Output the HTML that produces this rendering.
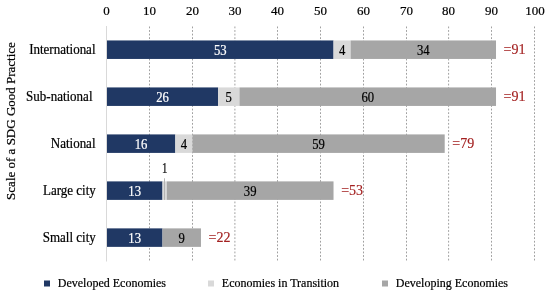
<!DOCTYPE html><html><head><meta charset="utf-8"><style>html,body{margin:0;padding:0;background:#fff;width:550px;height:294px;overflow:hidden}svg{display:block}text{font-family:"Liberation Serif","Times New Roman",serif}</style></head><body>
<svg width="550" height="294" viewBox="0 0 550 294">
<rect width="550" height="294" fill="#fff"/>
<line x1="149.5" y1="26.5" x2="149.5" y2="261.2" stroke="#a0a0a0" stroke-width="1" stroke-dasharray="1.8 1.772"/>
<line x1="192.5" y1="26.5" x2="192.5" y2="261.2" stroke="#a0a0a0" stroke-width="1" stroke-dasharray="1.8 1.772"/>
<line x1="234.9" y1="26.5" x2="234.9" y2="261.2" stroke="#a0a0a0" stroke-width="1" stroke-dasharray="1.8 1.772"/>
<line x1="277.5" y1="26.5" x2="277.5" y2="261.2" stroke="#a0a0a0" stroke-width="1" stroke-dasharray="1.8 1.772"/>
<line x1="320.5" y1="26.5" x2="320.5" y2="261.2" stroke="#a0a0a0" stroke-width="1" stroke-dasharray="1.8 1.772"/>
<line x1="363.5" y1="26.5" x2="363.5" y2="261.2" stroke="#a0a0a0" stroke-width="1" stroke-dasharray="1.8 1.772"/>
<line x1="406.5" y1="26.5" x2="406.5" y2="261.2" stroke="#a0a0a0" stroke-width="1" stroke-dasharray="1.8 1.772"/>
<line x1="448.6" y1="26.5" x2="448.6" y2="261.2" stroke="#a0a0a0" stroke-width="1" stroke-dasharray="1.8 1.772"/>
<line x1="491.5" y1="26.5" x2="491.5" y2="261.2" stroke="#a0a0a0" stroke-width="1" stroke-dasharray="1.8 1.772"/>
<line x1="534.5" y1="26.5" x2="534.5" y2="261.2" stroke="#a0a0a0" stroke-width="1" stroke-dasharray="1.8 1.772"/>
<text transform="translate(106.50,15.40) scale(1.0,1.03)" font-size="13" text-anchor="middle" fill="#000" stroke="#000" stroke-width="0.2">0</text>
<text transform="translate(149.50,15.40) scale(1.0,1.03)" font-size="13" text-anchor="middle" fill="#000" stroke="#000" stroke-width="0.2">10</text>
<text transform="translate(192.50,15.40) scale(1.0,1.03)" font-size="13" text-anchor="middle" fill="#000" stroke="#000" stroke-width="0.2">20</text>
<text transform="translate(234.90,15.40) scale(1.0,1.03)" font-size="13" text-anchor="middle" fill="#000" stroke="#000" stroke-width="0.2">30</text>
<text transform="translate(277.50,15.40) scale(1.0,1.03)" font-size="13" text-anchor="middle" fill="#000" stroke="#000" stroke-width="0.2">40</text>
<text transform="translate(320.50,15.40) scale(1.0,1.03)" font-size="13" text-anchor="middle" fill="#000" stroke="#000" stroke-width="0.2">50</text>
<text transform="translate(363.50,15.40) scale(1.0,1.03)" font-size="13" text-anchor="middle" fill="#000" stroke="#000" stroke-width="0.2">60</text>
<text transform="translate(406.50,15.40) scale(1.0,1.03)" font-size="13" text-anchor="middle" fill="#000" stroke="#000" stroke-width="0.2">70</text>
<text transform="translate(448.60,15.40) scale(1.0,1.03)" font-size="13" text-anchor="middle" fill="#000" stroke="#000" stroke-width="0.2">80</text>
<text transform="translate(491.50,15.40) scale(1.0,1.03)" font-size="13" text-anchor="middle" fill="#000" stroke="#000" stroke-width="0.2">90</text>
<text transform="translate(535.00,15.40) scale(1.0,1.03)" font-size="13" text-anchor="middle" fill="#000" stroke="#000" stroke-width="0.2">100</text>
<rect x="106.90" y="40.45" width="226.63" height="18.5" fill="#203864"/>
<rect x="333.53" y="40.45" width="17.10" height="18.5" fill="#d9d9d9"/>
<rect x="350.63" y="40.45" width="145.38" height="18.5" fill="#a6a6a6"/>
<text transform="translate(220.21,54.65) scale(0.94,1.03)" font-size="13.5" text-anchor="middle" fill="#fff" stroke="#fff" stroke-width="0.2">53</text>
<text transform="translate(342.08,54.65) scale(0.94,1.03)" font-size="13.5" text-anchor="middle" fill="#000" stroke="#000" stroke-width="0.2">4</text>
<text transform="translate(423.32,54.65) scale(0.94,1.03)" font-size="13.5" text-anchor="middle" fill="#000" stroke="#000" stroke-width="0.2">34</text>
<text transform="translate(503.62,54.25) scale(0.97,1.0)" font-size="14.5" text-anchor="start" fill="#a32020" stroke="#a32020" stroke-width="0.15"><tspan dy="-0.2">=</tspan><tspan dy="0.2">91</tspan></text>
<text transform="translate(95.50,54.05) scale(1.0,1.07)" font-size="13" text-anchor="end" fill="#000" stroke="#000" stroke-width="0.2">International</text>
<rect x="106.90" y="87.43" width="111.18" height="18.5" fill="#203864"/>
<rect x="218.08" y="87.43" width="21.38" height="18.5" fill="#d9d9d9"/>
<rect x="239.46" y="87.43" width="256.56" height="18.5" fill="#a6a6a6"/>
<text transform="translate(162.49,101.63) scale(0.94,1.03)" font-size="13.5" text-anchor="middle" fill="#fff" stroke="#fff" stroke-width="0.2">26</text>
<text transform="translate(228.77,101.63) scale(0.94,1.03)" font-size="13.5" text-anchor="middle" fill="#000" stroke="#000" stroke-width="0.2">5</text>
<text transform="translate(367.74,101.63) scale(0.94,1.03)" font-size="13.5" text-anchor="middle" fill="#000" stroke="#000" stroke-width="0.2">60</text>
<text transform="translate(503.62,101.23) scale(0.97,1.0)" font-size="14.5" text-anchor="start" fill="#a32020" stroke="#a32020" stroke-width="0.15"><tspan dy="-0.2">=</tspan><tspan dy="0.2">91</tspan></text>
<text transform="translate(92.50,101.03) scale(1.0,1.07)" font-size="13" text-anchor="end" fill="#000" stroke="#000" stroke-width="0.2">Sub-national</text>
<rect x="106.90" y="134.41" width="68.42" height="18.5" fill="#203864"/>
<rect x="175.32" y="134.41" width="17.10" height="18.5" fill="#d9d9d9"/>
<rect x="192.42" y="134.41" width="252.28" height="18.5" fill="#a6a6a6"/>
<text transform="translate(141.11,148.61) scale(0.94,1.03)" font-size="13.5" text-anchor="middle" fill="#fff" stroke="#fff" stroke-width="0.2">16</text>
<text transform="translate(183.87,148.61) scale(0.94,1.03)" font-size="13.5" text-anchor="middle" fill="#000" stroke="#000" stroke-width="0.2">4</text>
<text transform="translate(318.56,148.61) scale(0.94,1.03)" font-size="13.5" text-anchor="middle" fill="#000" stroke="#000" stroke-width="0.2">59</text>
<text transform="translate(452.30,148.21) scale(0.97,1.0)" font-size="14.5" text-anchor="start" fill="#a32020" stroke="#a32020" stroke-width="0.15"><tspan dy="-0.2">=</tspan><tspan dy="0.2">79</tspan></text>
<text transform="translate(95.50,148.01) scale(1.0,1.07)" font-size="13" text-anchor="end" fill="#000" stroke="#000" stroke-width="0.2">National</text>
<rect x="106.90" y="181.39" width="55.59" height="18.5" fill="#203864"/>
<rect x="162.49" y="181.39" width="4.28" height="18.5" fill="#d9d9d9"/>
<rect x="166.76" y="181.39" width="166.76" height="18.5" fill="#a6a6a6"/>
<text transform="translate(134.69,195.59) scale(0.94,1.03)" font-size="13.5" text-anchor="middle" fill="#fff" stroke="#fff" stroke-width="0.2">13</text>
<line x1="164.5" y1="178.29" x2="164.5" y2="199.89" stroke="#b4b4b4" stroke-width="1"/>
<text transform="translate(164.63,173.49) scale(0.8,1.03)" font-size="13.5" text-anchor="middle" fill="#000" stroke="#000" stroke-width="0.2">1</text>
<text transform="translate(250.15,195.59) scale(0.94,1.03)" font-size="13.5" text-anchor="middle" fill="#000" stroke="#000" stroke-width="0.2">39</text>
<text transform="translate(341.13,195.19) scale(0.97,1.0)" font-size="14.5" text-anchor="start" fill="#a32020" stroke="#a32020" stroke-width="0.15"><tspan dy="-0.2">=</tspan><tspan dy="0.2">53</tspan></text>
<text transform="translate(95.80,194.99) scale(1.0,1.07)" font-size="13" text-anchor="end" fill="#000" stroke="#000" stroke-width="0.2">Large city</text>
<rect x="106.90" y="228.37" width="55.59" height="18.5" fill="#203864"/>
<rect x="162.49" y="228.37" width="38.48" height="18.5" fill="#a6a6a6"/>
<text transform="translate(134.69,242.57) scale(0.94,1.03)" font-size="13.5" text-anchor="middle" fill="#fff" stroke="#fff" stroke-width="0.2">13</text>
<text transform="translate(181.73,242.57) scale(0.94,1.03)" font-size="13.5" text-anchor="middle" fill="#000" stroke="#000" stroke-width="0.2">9</text>
<text transform="translate(208.57,242.17) scale(0.97,1.0)" font-size="14.5" text-anchor="start" fill="#a32020" stroke="#a32020" stroke-width="0.15"><tspan dy="-0.2">=</tspan><tspan dy="0.2">22</tspan></text>
<text transform="translate(95.80,241.97) scale(1.0,1.07)" font-size="13" text-anchor="end" fill="#000" stroke="#000" stroke-width="0.2">Small city</text>
<line x1="106.5" y1="26" x2="106.5" y2="261.5" stroke="#d9d9d9" stroke-width="1"/>
<text transform="translate(14.8,121.0) rotate(-90) scale(1,1.0)" font-size="13" text-anchor="middle" fill="#000" stroke="#000" stroke-width="0.2">Scale of a SDG Good Practice</text>
<rect x="44" y="280.5" width="6" height="6" fill="#203864"/>
<text transform="translate(57.80,287.00) scale(1.0,1.04)" font-size="12" text-anchor="start" fill="#000" stroke="#000" stroke-width="0.2">Developed Economies</text>
<rect x="208" y="280.5" width="6" height="6" fill="#d9d9d9"/>
<text transform="translate(221.80,287.00) scale(1.0,1.04)" font-size="12" text-anchor="start" fill="#000" stroke="#000" stroke-width="0.2">Economies in Transition</text>
<rect x="382" y="280.5" width="6" height="6" fill="#a6a6a6"/>
<text transform="translate(395.80,287.00) scale(1.0,1.04)" font-size="12" text-anchor="start" fill="#000" stroke="#000" stroke-width="0.2">Developing Economies</text>
</svg></body></html>
